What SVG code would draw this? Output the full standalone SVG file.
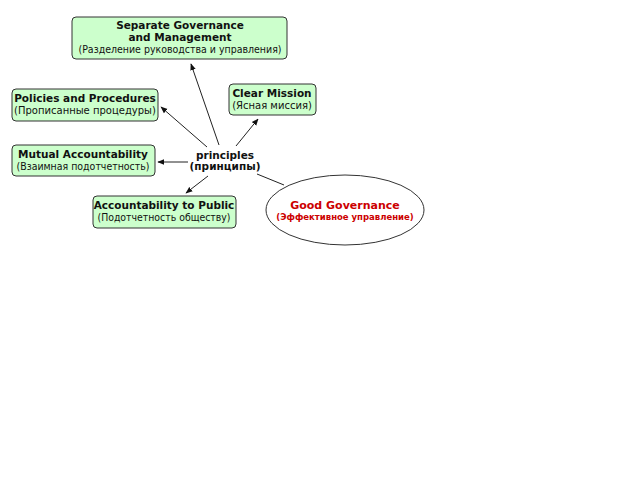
<svg xmlns="http://www.w3.org/2000/svg" width="638" height="478" viewBox="0 0 638 478">
<defs>
<style>
.box{fill:#ccffcc;stroke:#333;stroke-width:1}
text{font-family:"DejaVu Sans","Liberation Sans",sans-serif;font-size:10px;text-anchor:middle;fill:#111}
.b{font-weight:bold;font-size:10.5px}
.r{fill:#cc0000;font-weight:bold}
.c{stroke:#222;stroke-width:1;fill:none}
</style>
<marker id="ah" viewBox="0 0 10 10" refX="9" refY="5" markerWidth="7" markerHeight="7" orient="auto"><path d="M0,1 L10,5 L0,9 Z" fill="#111"/></marker>
</defs>
<rect width="638" height="478" fill="#fff"/>
<g id="connectors">
<line class="c" x1="219" y1="145" x2="191" y2="64" marker-end="url(#ah)"/>
<line class="c" x1="207" y1="147" x2="161" y2="107" marker-end="url(#ah)"/>
<line class="c" x1="236" y1="146" x2="258" y2="119" marker-end="url(#ah)"/>
<line class="c" x1="188" y1="162" x2="158" y2="162" marker-end="url(#ah)"/>
<line class="c" x1="208" y1="176" x2="186" y2="193" marker-end="url(#ah)"/>
<line class="c" x1="257" y1="174" x2="284" y2="185"/>
</g>
<g id="separate"><rect class="box" x="72" y="17" width="215" height="42" rx="4"/>
<text class="b" x="180" y="29">Separate Governance</text><text class="b" x="180" y="41">and Management</text><text x="180" y="53" textLength="203" lengthAdjust="spacingAndGlyphs">(Разделение руководства и управления)</text></g>
<g id="policies"><rect class="box" x="12" y="89" width="146" height="32" rx="4"/>
<text class="b" x="85" y="102">Policies and Procedures</text><text x="85" y="114">(Прописанные процедуры)</text></g>
<g id="mission"><rect class="box" x="229" y="84" width="87" height="31" rx="4"/>
<text class="b" x="272" y="97">Clear Mission</text><text x="272" y="109">(Ясная миссия)</text></g>
<g id="mutual"><rect class="box" x="12" y="145" width="143" height="31" rx="4"/>
<text class="b" x="83" y="158">Mutual Accountability</text><text x="83" y="170" textLength="133" lengthAdjust="spacingAndGlyphs">(Взаимная подотчетность)</text></g>
<g id="public"><rect class="box" x="93" y="196" width="143" height="32" rx="4"/>
<text class="b" x="164" y="209">Accountability to Public</text><text x="164" y="221" textLength="133" lengthAdjust="spacingAndGlyphs">(Подотчетность обществу)</text></g>
<g id="principles"><text class="b" x="225" y="159">principles</text><text class="b" x="225" y="170">(принципы)</text></g>
<g id="good"><ellipse cx="345" cy="210" rx="79" ry="35" fill="#fff" stroke="#333"/>
<text class="r" x="345" y="209" style="font-size:11px">Good Governance</text><text class="r" x="345" y="220" style="font-size:8.5px">(Эффективное управление)</text></g>
</svg>
